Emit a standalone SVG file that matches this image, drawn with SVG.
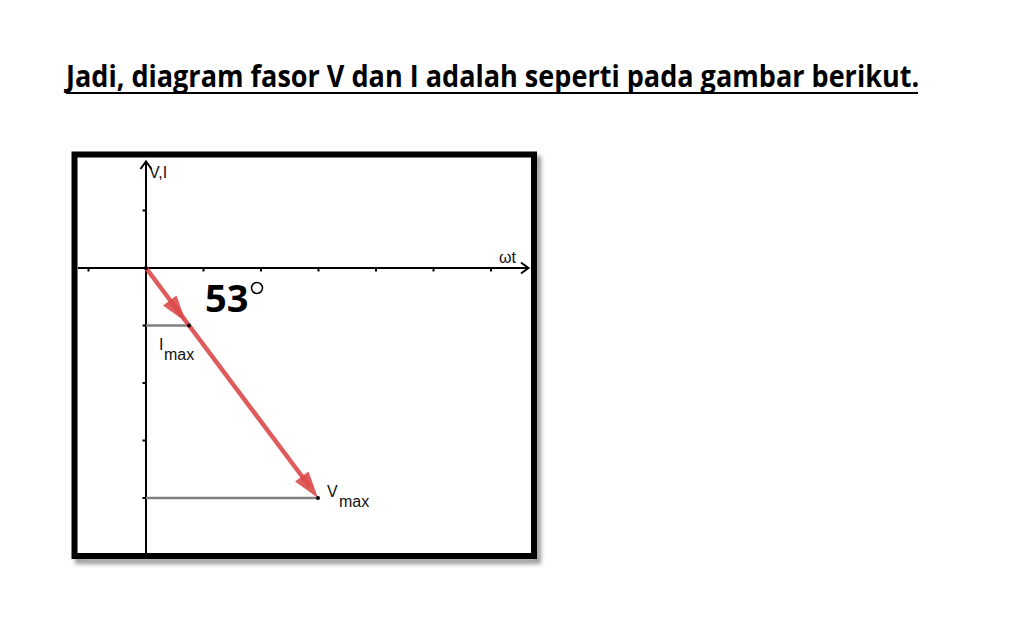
<svg xmlns="http://www.w3.org/2000/svg" width="1022" height="619" viewBox="0 0 1022 619">
<style>
.title{font-family:"Open Sans","Liberation Sans",sans-serif;font-weight:bold;font-size:31px;fill:#000}
.lbl{font-family:"Liberation Sans",Arial,sans-serif;font-size:16px;fill:#111}
.sub{font-family:"Liberation Sans",Arial,sans-serif;font-size:16px;fill:#111}
.ax{stroke:#000;stroke-width:2;fill:none}
.tick{stroke:#000;stroke-width:2}
.grey{stroke:#808080;stroke-width:2.5}
.vec{stroke:#DC4A4A;stroke-width:4.5;stroke-opacity:0.9;fill:none}
.head{fill:#DC4A4A;fill-opacity:0.9}
</style>
<defs>
<filter id="sh" x="-10%" y="-10%" width="120%" height="120%">
<feGaussianBlur stdDeviation="2"/>
</filter>
</defs>
<rect width="1022" height="619" fill="#fff"/>
<g id="title">
<g transform="translate(66 87) scale(0.873 1)">
<text class="title" x="0" y="0">Jadi, diagram fasor V dan I adalah seperti pada gambar berikut.</text>
</g>
<line x1="66" y1="93" x2="918" y2="93" stroke="#000" stroke-width="2"/>
</g>
<g id="frame">
<rect x="78" y="159" width="460" height="402" fill="none" stroke="#999" stroke-width="6" filter="url(#sh)"/>
<rect x="74.5" y="154.5" width="459.5" height="401.5" fill="#fff" stroke="#000" stroke-width="6"/>
</g>
<g id="axes">
<line class="ax" x1="146" y1="553" x2="146" y2="162"/>
<polyline class="ax" points="140.5,169 146,161.5 151.5,169"/>
<line class="ax" x1="78" y1="268" x2="528" y2="268"/>
<polyline class="ax" points="521,262.5 528.5,268 521,273.5"/>
<g class="tick">
<line x1="88.5" y1="268" x2="88.5" y2="271.5"/>
<line x1="203.5" y1="268" x2="203.5" y2="271.5"/>
<line x1="261" y1="268" x2="261" y2="271.5"/>
<line x1="318.5" y1="268" x2="318.5" y2="271.5"/>
<line x1="376" y1="268" x2="376" y2="271.5"/>
<line x1="433.5" y1="268" x2="433.5" y2="271.5"/>
<line x1="491" y1="268" x2="491" y2="271.5"/>
<line x1="142.5" y1="210.5" x2="146" y2="210.5"/>
<line x1="142.5" y1="325.5" x2="146" y2="325.5"/>
<line x1="142.5" y1="383" x2="146" y2="383"/>
<line x1="142.5" y1="440.5" x2="146" y2="440.5"/>
<line x1="142.5" y1="498" x2="146" y2="498"/>
</g>
<text class="lbl" x="149" y="178">V,I</text>
<text class="lbl" x="499" y="263">ωt</text>
</g>
<g id="projections">
<line class="grey" x1="146" y1="325.5" x2="189" y2="325.5"/>
<line class="grey" x1="146" y1="498" x2="318" y2="498"/>
</g>
<g id="connectors">
<line class="vec" x1="146" y1="268" x2="310" y2="487"/>
<polygon class="head" points="186,322 163,305.5 176.5,295.5"/>
<polygon class="head" points="318,498 295,481.5 308.5,471.5"/>
<circle cx="146" cy="268" r="2" fill="#000"/>
<circle cx="189" cy="325.5" r="2" fill="#000"/>
<circle cx="318" cy="498" r="2" fill="#000"/>
</g>
<g id="labels">
<text x="205" y="312" font-family="'Open Sans','Liberation Sans',sans-serif" font-weight="bold" font-size="38" fill="#000">53</text>
<circle cx="257" cy="288" r="5.5" fill="none" stroke="#000" stroke-width="1.5"/>
<text class="lbl" x="159" y="350" font-size="18">I</text>
<text class="sub" x="164" y="360" font-size="17">max</text>
<text class="lbl" x="327" y="497">V</text>
<text class="sub" x="339" y="507" font-size="17">max</text>
</g>
</svg>
